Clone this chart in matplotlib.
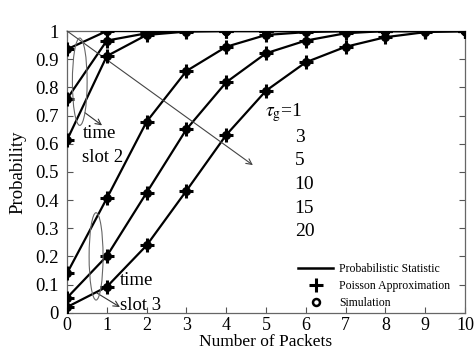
import matplotlib
matplotlib.use("Agg")
import matplotlib.pyplot as plt
from matplotlib.patches import Ellipse
from matplotlib.lines import Line2D

plt.rcParams['font.family'] = ['Liberation Serif', 'DejaVu Serif']
plt.rcParams['mathtext.fontset'] = 'stix'

packets = [0, 1, 2, 3, 4, 5, 6, 7, 8, 9, 10]
tau_labels = ['1', '3', '5', '10', '15', '20']
p_tau1 = [0.935, 1.0, 1.0, 1.0, 1.0, 1.0, 1.0, 1.0, 1.0, 1.0, 1.0]
p_tau3 = [0.759, 0.966, 0.992, 1.0, 1.0, 1.0, 1.0, 1.0, 1.0, 1.0, 1.0]
p_tau5 = [0.613, 0.911, 0.986, 0.998, 1.0, 1.0, 1.0, 1.0, 1.0, 1.0, 1.0]
p_tau10 = [0.14, 0.406, 0.678, 0.858, 0.944, 0.986, 0.996, 1.0, 1.0, 1.0, 1.0]
p_tau15 = [0.053, 0.201, 0.426, 0.651, 0.818, 0.921, 0.966, 0.992, 1.0, 1.0, 1.0]
p_tau20 = [0.02, 0.092, 0.239, 0.433, 0.631, 0.788, 0.889, 0.944, 0.978, 0.996, 1.0]
series = [p_tau1, p_tau3, p_tau5, p_tau10, p_tau15, p_tau20]

x_ticks = [0, 1, 2, 3, 4, 5, 6, 7, 8, 9, 10]
y_ticks = [0, 0.1, 0.2, 0.3, 0.4, 0.5, 0.6, 0.7, 0.8, 0.9, 1]
y_ticklabels = ['0', '0.1', '0.2', '0.3', '0.4', '0.5', '0.6', '0.7', '0.8', '0.9', '1']
legend_labels = ['Probabilistic Statistic', 'Poisson Approximation', 'Simulation']

fig = plt.figure(figsize=(4.74, 3.52), dpi=100)
ax = fig.add_axes([0.1414, 0.1116, 0.8396, 0.8003])

for s in series:
    ax.plot(packets, s, color='black', lw=1.6, zorder=3)
    ax.plot(packets, s, linestyle='none', marker='o', ms=5.5, mfc='black', mec='black', zorder=4)
    ax.plot(packets, s, linestyle='none', marker='+', ms=10, mew=2.2, color='black', zorder=5)

ax.set_xlim(0, 10)
ax.set_ylim(0, 1)
ax.set_xticks(x_ticks)
ax.set_yticks(y_ticks)
ax.set_yticklabels(y_ticklabels)
ax.tick_params(direction='in', top=True, right=True, labelsize=13.5, length=4,
               color='#555555', pad=6)
ax.tick_params(axis='x', pad=3, labelsize=13)
for sp in ax.spines.values():
    sp.set_color('#666666')
    sp.set_linewidth(0.9)
ax.set_xlabel('Number of Packets', fontsize=12.5, labelpad=0)
ax.set_ylabel('Probability', fontsize=13.5, labelpad=6)

# diagonal arrow indicating increasing tau
ax.annotate('', xy=(4.67, 0.524), xytext=(0, 1),
            arrowprops=dict(arrowstyle='->', color='#444444', lw=0.8,
                            shrinkA=0, shrinkB=0))
ax.text(4.98, 0.71, r'$\tau_{\rm g}$=' + tau_labels[0], fontsize=14, va='center', ha='left')
for i, lab in enumerate(tau_labels[1:]):
    ax.text(5.72, 0.623 - i * 0.084, lab, fontsize=14, va='center', ha='left')

# time slot annotations
ax.add_patch(Ellipse((0.32, 0.82), 0.37, 0.31, fill=False, ec='#666666', lw=0.8, zorder=6))
ax.annotate('', xy=(0.88, 0.665), xytext=(0.45, 0.71),
            arrowprops=dict(arrowstyle='->', color='#333333', lw=0.8, shrinkA=0, shrinkB=0))
ax.text(0.4, 0.636, 'time', fontsize=13.5, va='center', ha='left')
ax.text(0.37, 0.55, 'slot 2', fontsize=13.5, va='center', ha='left')

ax.add_patch(Ellipse((0.73, 0.2), 0.35, 0.31, fill=False, ec='#666666', lw=0.8, zorder=6))
ax.annotate('', xy=(1.33, 0.02), xytext=(0.75, 0.07),
            arrowprops=dict(arrowstyle='->', color='#333333', lw=0.8, shrinkA=0, shrinkB=0))
ax.text(1.33, 0.115, 'time', fontsize=13.5, va='center', ha='left')
ax.text(1.33, 0.026, 'slot 3', fontsize=13.5, va='center', ha='left')

# legend
handles = [Line2D([], [], color='black', lw=1.8),
           Line2D([], [], color='black', marker='+', ls='none', ms=10, mew=2.2),
           Line2D([], [], color='black', marker='o', ls='none', ms=5, mfc='white', mew=1.8)]
ax.legend(handles, legend_labels,
          loc='lower left', bbox_to_anchor=(0.58, 0.012), frameon=False, fontsize=8.5,
          handlelength=3.0, handletextpad=0.5, labelspacing=0.42, borderaxespad=0,
          borderpad=0)

fig.savefig('out.png', dpi=100)
